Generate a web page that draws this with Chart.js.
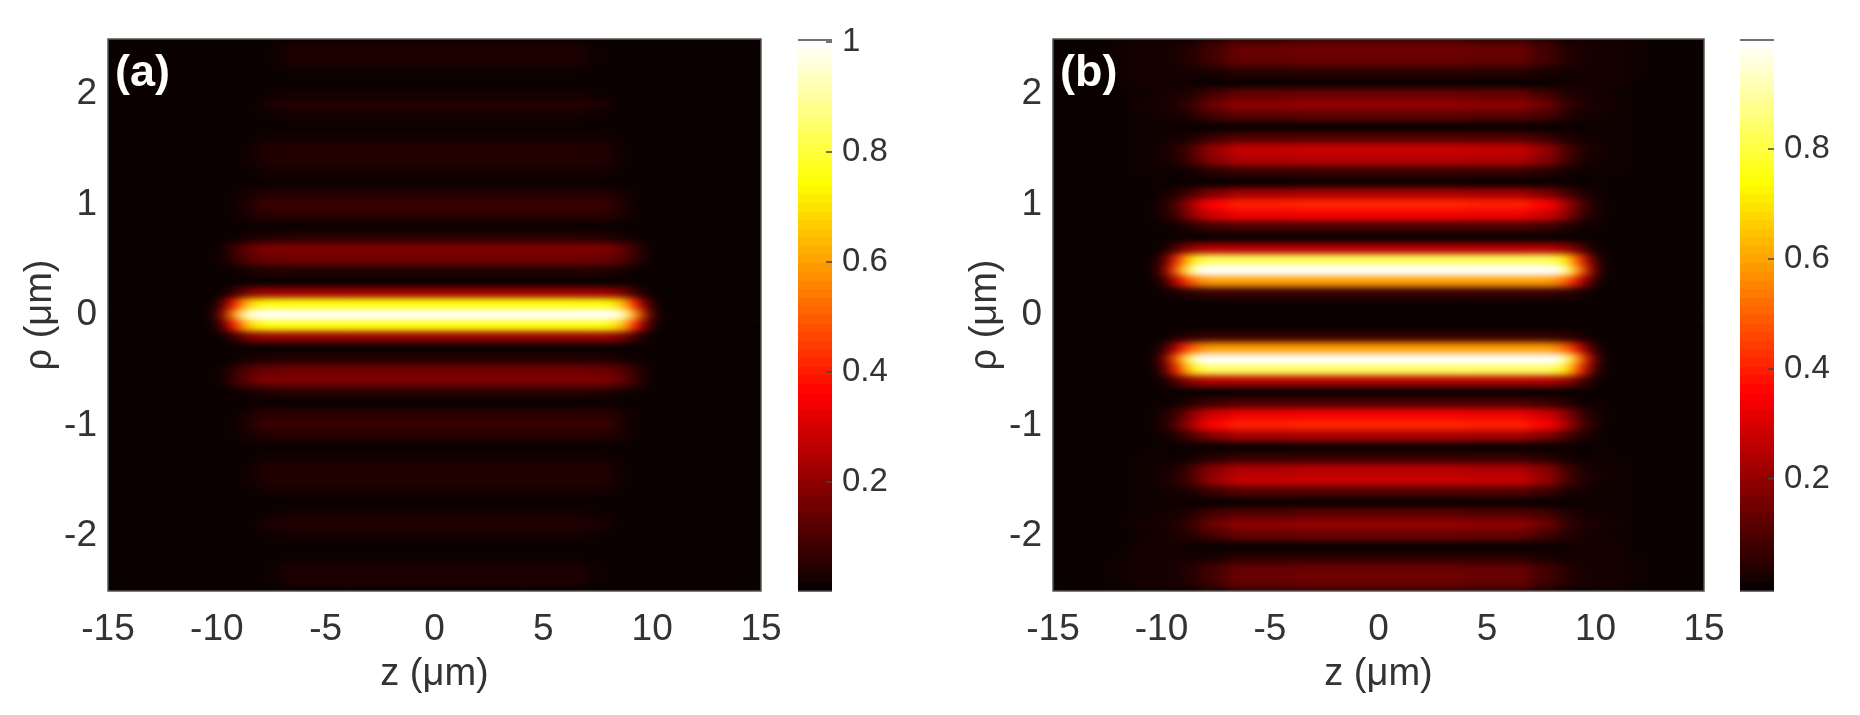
<!DOCTYPE html>
<html>
<head>
<meta charset="utf-8">
<script src="https://cdn.jsdelivr.net/npm/chart.js@4"></script>
<style>
  html,body{margin:0;background:#fff;overflow:hidden;}
  canvas{position:absolute;top:0;}
</style>
</head>
<body>
<svg width="0" height="0" style="position:absolute">
  <filter id="soften" x="-5%" y="-5%" width="110%" height="110%" color-interpolation-filters="sRGB">
    <feGaussianBlur stdDeviation="7 3"/>
  </filter>
</svg>
<canvas id="heatA" width="790" height="715" style="left:0"></canvas>
<canvas id="barA" width="110" height="715" style="left:790px"></canvas>
<canvas id="heatB" width="800" height="715" style="left:940px"></canvas>
<canvas id="barB" width="130" height="715" style="left:1730px"></canvas>
<script>
/* ========= DATA ========= */
const zEdges = [-15,-12.5,-11.5,-10.5,-10,-9.5,-9,-8.5,-8,-7,-4,4,7,8,8.5,9,9.5,10,10.5,11.5,12.5,15];
const rhoRows = [2.5,2.4,2.3,2.2,2.1,2,1.9,1.8,1.7,1.6,1.5,1.4,1.3,1.2,1.1,1,0.9,0.8,0.7,0.6,0.5,0.4,0.3,0.2,0.1,0,
  -0.1,-0.2,-0.3,-0.4,-0.5,-0.6,-0.7,-0.8,-0.9,-1,-1.1,-1.2,-1.3,-1.4,-1.5,-1.6,-1.7,-1.8,-1.9,-2,-2.1,-2.2,-2.3,-2.4,-2.5];
const zTicks = [-15,-10,-5,0,5,10,15];
const rhoTicks = [-2,-1,0,1,2];
const barTicksA = [0.2,0.4,0.6,0.8,1];
const barTicksB = [0.2,0.4,0.6,0.8];

// intensity in percent, one line per rho row, one number per z column
const intensityA = [
[0,0,0,0,0,0,0,0,1,2,2,2,1,0,0,0,0,0,0,0,0],
[0,0,0,0,0,0,0,1,2,4,4,4,2,1,0,0,0,0,0,0,0],
[0,0,0,0,0,0,0,1,2,4,4,4,2,1,0,0,0,0,0,0,0],
[0,0,0,0,0,0,0,0,1,2,2,2,1,0,0,0,0,0,0,0,0],
[0,0,0,0,0,0,0,0,0,0,0,0,0,0,0,0,0,0,0,0,0],
[0,0,0,0,0,0,0,1,2,3,3,3,2,1,0,0,0,0,0,0,0],
[0,0,0,0,0,1,1,2,4,5,5,5,4,2,1,1,0,0,0,0,0],
[0,0,0,0,0,0,0,1,2,3,3,3,2,1,0,0,0,0,0,0,0],
[0,0,0,0,0,0,0,0,0,0,0,0,0,0,0,0,0,0,0,0,0],
[0,0,0,0,0,1,1,2,3,3,3,3,3,2,1,1,0,0,0,0,0],
[0,0,0,0,1,1,2,3,5,5,5,5,5,3,2,1,1,0,0,0,0],
[0,0,0,0,1,1,2,3,5,5,5,5,5,3,2,1,1,0,0,0,0],
[0,0,0,0,0,1,1,2,3,3,3,3,3,2,1,1,0,0,0,0,0],
[0,0,0,0,1,1,0,0,0,0,0,0,0,0,0,1,1,0,0,0,0],
[0,0,0,0,1,2,3,4,5,5,5,5,5,4,3,2,1,0,0,0,0],
[0,0,0,0,1,2,4,6,8,8,8,8,8,6,4,2,1,0,0,0,0],
[0,0,0,0,1,2,3,5,6,6,6,6,6,5,3,2,1,0,0,0,0],
[0,0,0,0,1,1,0,0,1,1,1,1,1,0,0,1,1,0,0,0,0],
[0,0,0,0,1,2,3,4,5,6,6,6,5,4,3,2,1,0,0,0,0],
[0,0,0,1,3,8,13,16,18,18,18,18,18,16,13,8,3,1,0,0,0],
[0,0,0,1,3,7,11,14,15,16,16,16,15,14,11,7,3,1,0,0,0],
[0,0,0,0,1,2,3,4,5,5,5,5,5,4,3,2,1,0,0,0,0],
[0,0,0,0,0,0,0,0,0,0,0,0,0,0,0,0,0,0,0,0,0],
[0,0,0,0,2,8,16,20,22,22,22,22,22,20,16,8,2,0,0,0,0],
[0,0,0,1,12,38,62,72,76,76,76,76,76,72,62,38,12,1,0,0,0],
[0,0,0,3,20,58,90,100,100,100,100,100,100,100,90,58,20,3,0,0,0],
[0,0,0,1,12,38,62,72,76,76,76,76,76,72,62,38,12,1,0,0,0],
[0,0,0,0,2,8,16,20,22,22,22,22,22,20,16,8,2,0,0,0,0],
[0,0,0,0,0,0,0,0,0,0,0,0,0,0,0,0,0,0,0,0,0],
[0,0,0,0,1,2,3,4,5,5,5,5,5,4,3,2,1,0,0,0,0],
[0,0,0,1,3,7,11,14,15,16,16,16,15,14,11,7,3,1,0,0,0],
[0,0,0,1,3,8,13,16,18,18,18,18,18,16,13,8,3,1,0,0,0],
[0,0,0,0,1,2,3,4,5,6,6,6,5,4,3,2,1,0,0,0,0],
[0,0,0,0,1,1,0,0,1,1,1,1,1,0,0,1,1,0,0,0,0],
[0,0,0,0,1,2,3,5,6,6,6,6,6,5,3,2,1,0,0,0,0],
[0,0,0,0,1,2,4,6,8,8,8,8,8,6,4,2,1,0,0,0,0],
[0,0,0,0,1,2,3,4,5,5,5,5,5,4,3,2,1,0,0,0,0],
[0,0,0,0,1,1,0,0,0,0,0,0,0,0,0,1,1,0,0,0,0],
[0,0,0,0,0,1,1,2,3,3,3,3,3,2,1,1,0,0,0,0,0],
[0,0,0,0,1,1,2,3,5,5,5,5,5,3,2,1,1,0,0,0,0],
[0,0,0,0,1,1,2,3,5,5,5,5,5,3,2,1,1,0,0,0,0],
[0,0,0,0,0,1,1,2,3,3,3,3,3,2,1,1,0,0,0,0,0],
[0,0,0,0,0,0,0,0,0,0,0,0,0,0,0,0,0,0,0,0,0],
[0,0,0,0,0,0,0,1,2,3,3,3,2,1,0,0,0,0,0,0,0],
[0,0,0,0,0,1,1,2,4,5,5,5,4,2,1,1,0,0,0,0,0],
[0,0,0,0,0,0,0,1,2,3,3,3,2,1,0,0,0,0,0,0,0],
[0,0,0,0,0,0,0,0,0,0,0,0,0,0,0,0,0,0,0,0,0],
[0,0,0,0,0,0,0,0,1,2,2,2,1,0,0,0,0,0,0,0,0],
[0,0,0,0,0,0,0,1,2,4,4,4,2,1,0,0,0,0,0,0,0],
[0,0,0,0,0,0,0,1,2,4,4,4,2,1,0,0,0,0,0,0,0],
[0,0,0,0,0,0,0,0,1,2,2,2,1,0,0,0,0,0,0,0,0]
];

const intensityB = [
[0,2,3,3,3,3,3,4,6,9,10,9,6,4,3,3,3,3,3,2,0],
[0,2,3,3,3,4,5,7,10,15,16,15,10,7,5,4,3,3,3,2,0],
[0,2,3,3,3,4,5,7,10,14,15,14,10,7,5,4,3,3,3,2,0],
[0,2,3,3,3,3,3,3,4,6,6,6,4,3,3,3,3,3,3,2,0],
[0,1,3,3,3,3,2,2,1,1,1,1,1,2,2,3,3,3,3,1,0],
[0,1,2,3,3,4,5,7,10,14,15,14,10,7,5,4,3,3,2,1,0],
[0,1,3,3,4,5,7,11,16,20,21,20,16,11,7,5,4,3,3,1,0],
[0,1,2,3,3,3,5,7,10,12,13,12,10,7,5,3,3,3,2,1,0],
[0,0,2,2,2,2,1,1,1,1,1,1,1,1,1,2,2,2,2,0,0],
[0,0,2,2,3,3,4,6,9,12,12,12,9,6,4,3,3,2,2,0,0],
[0,0,2,3,4,6,10,15,22,28,29,28,22,15,10,6,4,3,2,0,0],
[0,0,2,3,3,5,9,14,20,25,26,25,20,14,9,5,3,3,2,0,0],
[0,0,2,2,2,2,3,4,6,8,8,8,6,4,3,2,2,2,2,0,0],
[0,0,1,2,1,1,1,1,1,1,2,1,1,1,1,1,1,2,1,0,0],
[0,0,1,2,3,6,9,14,18,23,24,23,18,14,9,6,3,2,1,0,0],
[0,0,1,3,6,13,22,30,37,41,42,41,37,30,22,13,6,3,1,0,0],
[0,0,1,3,5,10,18,25,30,34,35,34,30,25,18,10,5,3,1,0,0],
[0,0,1,2,2,3,5,7,9,11,11,11,9,7,5,3,2,2,1,0,0],
[0,0,1,1,1,1,1,1,1,1,1,1,1,1,1,1,1,1,1,0,0],
[0,0,0,1,5,13,20,24,26,26,26,26,26,24,20,13,5,1,0,0,0],
[0,0,0,3,18,44,68,80,84,84,84,84,84,80,68,44,18,3,0,0,0],
[0,0,0,4,24,55,84,100,100,100,100,100,100,100,84,55,24,4,0,0,0],
[0,0,0,2,12,30,48,56,60,60,60,60,60,56,48,30,12,2,0,0,0],
[0,0,0,0,2,4,6,7,8,8,8,8,8,7,6,4,2,0,0,0,0],
[0,0,0,0,0,0,0,0,0,0,0,0,0,0,0,0,0,0,0,0,0],
[0,0,0,0,0,0,0,0,0,0,0,0,0,0,0,0,0,0,0,0,0],
[0,0,0,0,0,0,0,0,0,0,0,0,0,0,0,0,0,0,0,0,0],
[0,0,0,0,2,4,6,7,8,8,8,8,8,7,6,4,2,0,0,0,0],
[0,0,0,2,12,30,48,56,60,60,60,60,60,56,48,30,12,2,0,0,0],
[0,0,0,4,24,55,84,100,100,100,100,100,100,100,84,55,24,4,0,0,0],
[0,0,0,3,18,44,68,80,84,84,84,84,84,80,68,44,18,3,0,0,0],
[0,0,0,1,5,13,20,24,26,26,26,26,26,24,20,13,5,1,0,0,0],
[0,0,1,1,1,1,1,1,1,1,1,1,1,1,1,1,1,1,1,0,0],
[0,0,1,2,2,3,5,7,9,11,11,11,9,7,5,3,2,2,1,0,0],
[0,0,1,3,5,10,18,25,30,34,35,34,30,25,18,10,5,3,1,0,0],
[0,0,1,3,6,13,22,30,37,41,42,41,37,30,22,13,6,3,1,0,0],
[0,0,1,2,3,6,9,14,18,23,24,23,18,14,9,6,3,2,1,0,0],
[0,0,1,2,1,1,1,1,1,1,2,1,1,1,1,1,1,2,1,0,0],
[0,0,2,2,2,2,3,4,6,8,8,8,6,4,3,2,2,2,2,0,0],
[0,0,2,3,3,5,9,14,20,25,26,25,20,14,9,5,3,3,2,0,0],
[0,0,2,3,4,6,10,15,22,28,29,28,22,15,10,6,4,3,2,0,0],
[0,0,2,2,3,3,4,6,9,12,12,12,9,6,4,3,3,2,2,0,0],
[0,0,2,2,2,2,1,1,1,1,1,1,1,1,1,2,2,2,2,0,0],
[0,1,2,3,3,3,5,7,10,12,13,12,10,7,5,3,3,3,2,1,0],
[0,1,3,3,4,5,7,11,16,20,21,20,16,11,7,5,4,3,3,1,0],
[0,1,2,3,3,4,5,7,10,14,15,14,10,7,5,4,3,3,2,1,0],
[0,1,3,3,3,3,2,2,1,1,1,1,1,2,2,3,3,3,3,1,0],
[0,2,3,3,3,3,3,3,4,6,6,6,4,3,3,3,3,3,3,2,0],
[0,2,3,3,3,4,5,7,10,14,15,14,10,7,5,4,3,3,3,2,0],
[0,2,3,3,3,4,5,7,10,15,16,15,10,7,5,4,3,3,3,2,0],
[0,2,3,3,3,3,3,4,6,9,10,9,6,4,3,3,3,3,3,2,0]
];

/* ========= CONFIG ========= */
const FONT = "'Liberation Sans', Arial, sans-serif";
const TEXT = "#333";

// matlab "hot" colormap
function hotColor(v){
  const clamp = x => Math.max(0,Math.min(1,x));
  const r = Math.max(10, Math.round(255*clamp(v/0.365)));
  const g = Math.round(255*clamp((v-0.365)/0.381));
  const b = Math.round(255*clamp((v-0.746)/0.254));
  return `rgb(${r},${g},${b})`;
}

/* ========= PLUGINS ========= */
// smooths the cells like an interpolated image
const smoothCells = {
  id:"smoothCells",
  afterDatasetsDraw(chart){
    const {ctx,chartArea:a} = chart;
    const copy = document.createElement("canvas");
    copy.width = a.width; copy.height = a.height;
    copy.getContext("2d").drawImage(chart.canvas,a.left,a.top,a.width,a.height,0,0,a.width,a.height);
    ctx.save();
    ctx.beginPath(); ctx.rect(a.left,a.top,a.width,a.height); ctx.clip();
    ctx.filter = "url(#soften)";
    ctx.drawImage(copy,a.left,a.top);
    ctx.restore();
  }
};

const panelFrame = {
  id:"panelFrame",
  afterDraw(chart,args,opts){
    const {ctx,chartArea:a} = chart;
    ctx.save();
    ctx.strokeStyle = "#555";
    ctx.lineWidth = 1.5;
    ctx.strokeRect(a.left,a.top,a.width,a.height);
    ctx.fillStyle = "#fff";
    ctx.font = "bold 45px "+FONT;
    ctx.textBaseline = "alphabetic";
    ctx.fillText(opts.tag,a.left+7,a.top+47);
    ctx.restore();
  }
};

const barMarks = {
  id:"barMarks",
  afterDraw(chart){
    const {ctx,chartArea:a,scales} = chart;
    ctx.save();
    ctx.strokeStyle = "#444";
    ctx.lineWidth = 1.5;
    ctx.beginPath();
    ctx.moveTo(a.left,a.top+1); ctx.lineTo(a.right,a.top+1);
    ctx.moveTo(a.left,a.bottom); ctx.lineTo(a.right,a.bottom);
    scales.y.ticks.forEach(t=>{
      const y = scales.y.getPixelForValue(t.value);
      ctx.moveTo(a.right-6,y); ctx.lineTo(a.right,y);
    });
    ctx.stroke();
    ctx.restore();
  }
};

/* ========= HEATMAP ========= */
function heatChart(id,rows,tag,leftWidth,rightPad,titlePad){
  const datasets = zEdges.slice(0,-1).map((lo,col)=>({
    data:rhoRows.map(rho=>({x:[lo,zEdges[col+1]],y:rho})),
    backgroundColor:rows.map(r=>hotColor(r[col]/100)),
    borderWidth:0,
    barPercentage:1,
    categoryPercentage:1,
    grouped:false
  }));

  return new Chart(document.getElementById(id),{
    type:"bar",
    data:{datasets},
    plugins:[smoothCells,panelFrame],
    options:{
      indexAxis:"y",
      responsive:false,
      animation:false,
      events:[],
      layout:{padding:{top:39,right:rightPad,left:0,bottom:0}},
      plugins:{legend:{display:false},tooltip:{enabled:false},panelFrame:{tag}},
      scales:{
        x:{
          type:"linear",min:-15,max:15,
          grid:{display:false,drawTicks:false},border:{display:false},
          afterBuildTicks(s){ s.ticks = zTicks.map(value=>({value})); },
          afterFit(s){ s.height = 124; s.paddingLeft = 0; s.paddingRight = 0; },
          ticks:{color:TEXT,font:{family:FONT,size:37},padding:17,maxRotation:0,autoSkip:false,callback:v=>String(v)},
          title:{display:true,text:"z (μm)",color:TEXT,font:{family:FONT,size:38},padding:{top:0,bottom:18}}
        },
        y:{
          type:"linear",min:-2.5,max:2.5,offset:false,
          grid:{display:false,offset:false,drawTicks:false},border:{display:false},
          afterBuildTicks(s){ s.ticks = rhoTicks.map(value=>({value})); },
          afterFit(s){ s.width = leftWidth; s.paddingTop = 0; s.paddingBottom = 0; },
          ticks:{color:TEXT,font:{family:FONT,size:37},padding:11,autoSkip:false,callback:v=>String(v)},
          title:{display:true,text:"ρ (μm)",color:TEXT,font:{family:FONT,size:38},padding:{top:titlePad,bottom:0}}
        }
      }
    }
  });
}

/* ========= COLORBAR ========= */
function colorBar(id,ticks,min,max,leftPad,axisWidth){
  const LEVELS = 64;
  return new Chart(document.getElementById(id),{
    type:"bar",
    data:{
      labels:[""],
      datasets:[{
        data:[[min,max]],
        barPercentage:1,
        categoryPercentage:1,
        borderWidth:0,
        backgroundColor(c){
          const a = c.chart.chartArea;
          if(!a) return "#000";
          const g = c.chart.ctx.createLinearGradient(0,a.bottom,0,a.top);
          for(let i=0;i<LEVELS;i++){
            const col = hotColor((i+1)/LEVELS);
            g.addColorStop(i/LEVELS,col);
            g.addColorStop((i+1)/LEVELS,col);
          }
          return g;
        }
      }]
    },
    plugins:[barMarks],
    options:{
      responsive:false,
      animation:false,
      events:[],
      layout:{padding:{top:39,bottom:124,left:leftPad,right:0}},
      plugins:{legend:{display:false},tooltip:{enabled:false}},
      scales:{
        x:{display:false},
        y:{
          position:"right",type:"linear",min,max,
          grid:{display:false,drawTicks:false},border:{display:false},
          afterBuildTicks(s){ s.ticks = ticks.map(value=>({value})); },
          afterFit(s){ s.width = axisWidth; s.paddingTop = 0; s.paddingBottom = 0; },
          ticks:{color:TEXT,font:{family:FONT,size:33},padding:10,autoSkip:false,callback:v=>String(v)}
        }
      }
    }
  });
}

/* ========= CHARTS ========= */
heatChart("heatA",intensityA,"(a)",108,29,18);
colorBar("barA",barTicksA,0.002,1.0055,8,68);
heatChart("heatB",intensityB,"(b)",113,36,23);
colorBar("barB",barTicksB,-0.004,1,10,86);
</script>
</body>
</html>
